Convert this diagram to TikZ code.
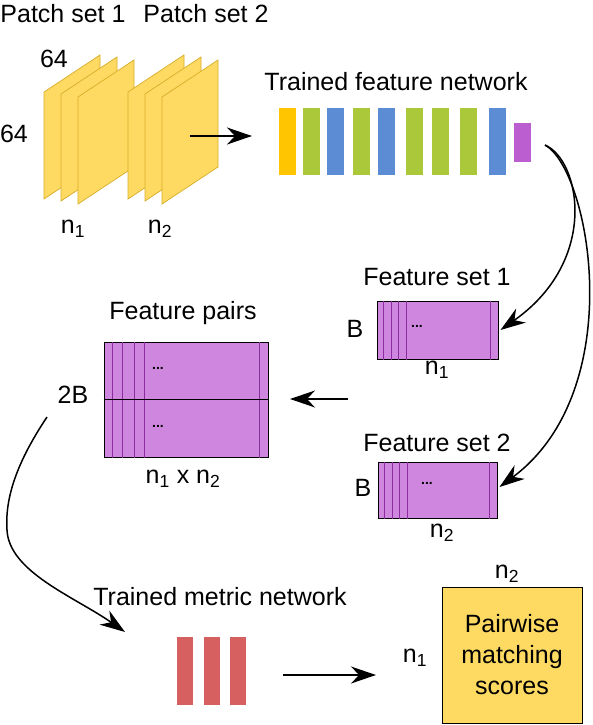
\documentclass[tikz,border=0pt]{standalone}
\usepackage{fontspec}
\setmainfont{Liberation Sans}
\usetikzlibrary{arrows.meta,positioning}
\definecolor{patchyel}{RGB}{255,218,98}
\definecolor{patchedge}{RGB}{214,172,40}
\definecolor{netyel}{RGB}{255,197,0}
\definecolor{netgreen}{RGB}{170,200,58}
\definecolor{netblue}{RGB}{92,140,212}
\definecolor{netpurple}{RGB}{187,95,208}
\definecolor{featfill}{RGB}{206,134,222}
\definecolor{featline}{RGB}{140,45,160}
\definecolor{metricred}{RGB}{214,96,96}
\tikzset{
  lbl/.style={font=\fontsize{25}{31}\selectfont},
  tiny/.style={font=\fontsize{14}{14}\selectfont\bfseries},
  arr/.style={-{Stealth[length=25pt,width=17pt,inset=8pt]}, line width=1.5pt},
  bar/.style={rectangle, inner sep=0pt, minimum width=17pt, minimum height=67pt},
  featbox/.style={rectangle, draw, fill=featfill, line width=1pt, inner sep=0pt},
  fline/.style={featline, line width=1pt},
  patch/.style={fill=patchyel, draw=patchedge, line width=0.7pt}
}
\begin{document}
\begin{tikzpicture}[x=1pt,y=-1pt]
\useasboundingbox (0,0) rectangle (593,725);
\foreach \x/\y in {44/92, 61/94, 78/97, 128/92, 145/94, 162/97}
  \draw[patch] (\x,\y) -- ++(56,-37) -- ++(0,107) -- ++(-56,37) -- cycle;
\node (ps1) [lbl] at (63,14) {Patch set 1};
\node (ps2) [lbl] at (206,14) {Patch set 2};
\node (w64) [lbl] at (54,59) {64};
\node (h64) [lbl] at (14,134) {64};
\node (pn1) [lbl] at (73,229) {n\textsubscript{1}};
\node (pn2) [lbl] at (160,229) {n\textsubscript{2}};
\coordinate (pa) at (190,136);
\coordinate (pb) at (252,136);
\draw[arr] (pa) -- (pb);
\node (fnt) [lbl] at (396,82) {Trained feature network};
\foreach \n/\x/\c in {1/287.5/netyel, 2/311.5/netgreen, 3/335/netblue, 4/361/netgreen, 5/386.5/netblue,
    6/414/netgreen, 7/440.5/netgreen, 8/468/netgreen, 9/497.5/netblue}
  \node (fn\n) [bar, fill=\c] at (\x,141.5) {};
\node (fn10) [bar, fill=netpurple, minimum height=39pt] at (522.5,142.5) {};
\coordinate (fout) at (545,145);
% feature sets
\node (fs1) [featbox, minimum width=121pt, minimum height=58pt] at (437.5,330) {};
\node (fs2) [featbox, minimum width=119pt, minimum height=56pt] at (437.5,490) {};
\foreach \b in {fs1,fs2}{
  \foreach \d in {7,15,22,30}
    \draw[fline] ([xshift=\d pt]\b.north west) -- ([xshift=\d pt]\b.south west);
  \draw[fline] ([xshift=-8pt]\b.north east) -- ([xshift=-8pt]\b.south east);
}
\node (fs1d) [tiny] at (417,326) {...};
\node (fs2d) [tiny] at (427,483) {...};
\node (fs1t) [lbl] at (437,277) {Feature set 1};
\node (fs2t) [lbl] at (437,443) {Feature set 2};
\node (fs1b) [lbl] at (355,329) {B};
\node (fs2b) [lbl] at (363,488) {B};
\node (fs1n) [lbl] at (437,370) {n\textsubscript{1}};
\node (fs2n) [lbl] at (442,533) {n\textsubscript{2}};
\draw[arr] (fout) .. controls (580,160) and (600,260) .. ([xshift=2pt]fs1.east);
\draw[arr] (fout) .. controls (590,170) and (630,390) .. ([xshift=2pt,yshift=3pt]fs2.east);
% feature pairs
\node (fp) [featbox, minimum width=164pt, minimum height=115pt] at (186,399.5) {};
\foreach \d in {9,19,31,41}
  \draw[fline] ([xshift=\d pt]fp.north west) -- ([xshift=\d pt]fp.south west);
\draw[fline] ([xshift=-9pt]fp.north east) -- ([xshift=-9pt]fp.south east);
\draw[line width=1.6pt] (fp.west) -- (fp.east);
\node (fpd1) [tiny] at (158,368) {...};
\node (fpd2) [tiny] at (158,426) {...};
\node (fpt) [lbl] at (183,313) {Feature pairs};
\node (fpb) [lbl] at (73,395) {2B};
\node (fpn) [lbl] at (183,479) {n\textsubscript{1} x n\textsubscript{2}};
\coordinate (qa) at (348,399);
\coordinate (qb) at (290,399);
\draw[arr] (qa) -- (qb);
% metric network
\node (mnt) [lbl] at (220,597) {Trained metric network};
\foreach \n/\x in {1/185, 2/212, 3/238}
  \node (mn\n) [bar, fill=metricred, minimum width=16pt, minimum height=68pt] at (\x,671) {};
\coordinate (min) at (47,417);
\coordinate (mid) at (7,530);
\coordinate (mtip) at (125,632);
\draw[arr] (min) .. controls (15,465) and (5,500) .. (mid) .. controls (9,572) and (75,597) .. (mtip);
\node (pms) [draw, fill=patchyel, line width=1pt, minimum width=140pt, minimum height=136pt,
  lbl, align=center] at (512,655) {Pairwise\\matching\\scores};
\node (pmn1) [lbl] at (415,658) {n\textsubscript{1}};
\node (pmn2) [lbl] at (507,574) {n\textsubscript{2}};
\coordinate (ra) at (283,675);
\coordinate (rb) at (376,675);
\draw[arr] (ra) -- (rb);
\end{tikzpicture}
\end{document}
